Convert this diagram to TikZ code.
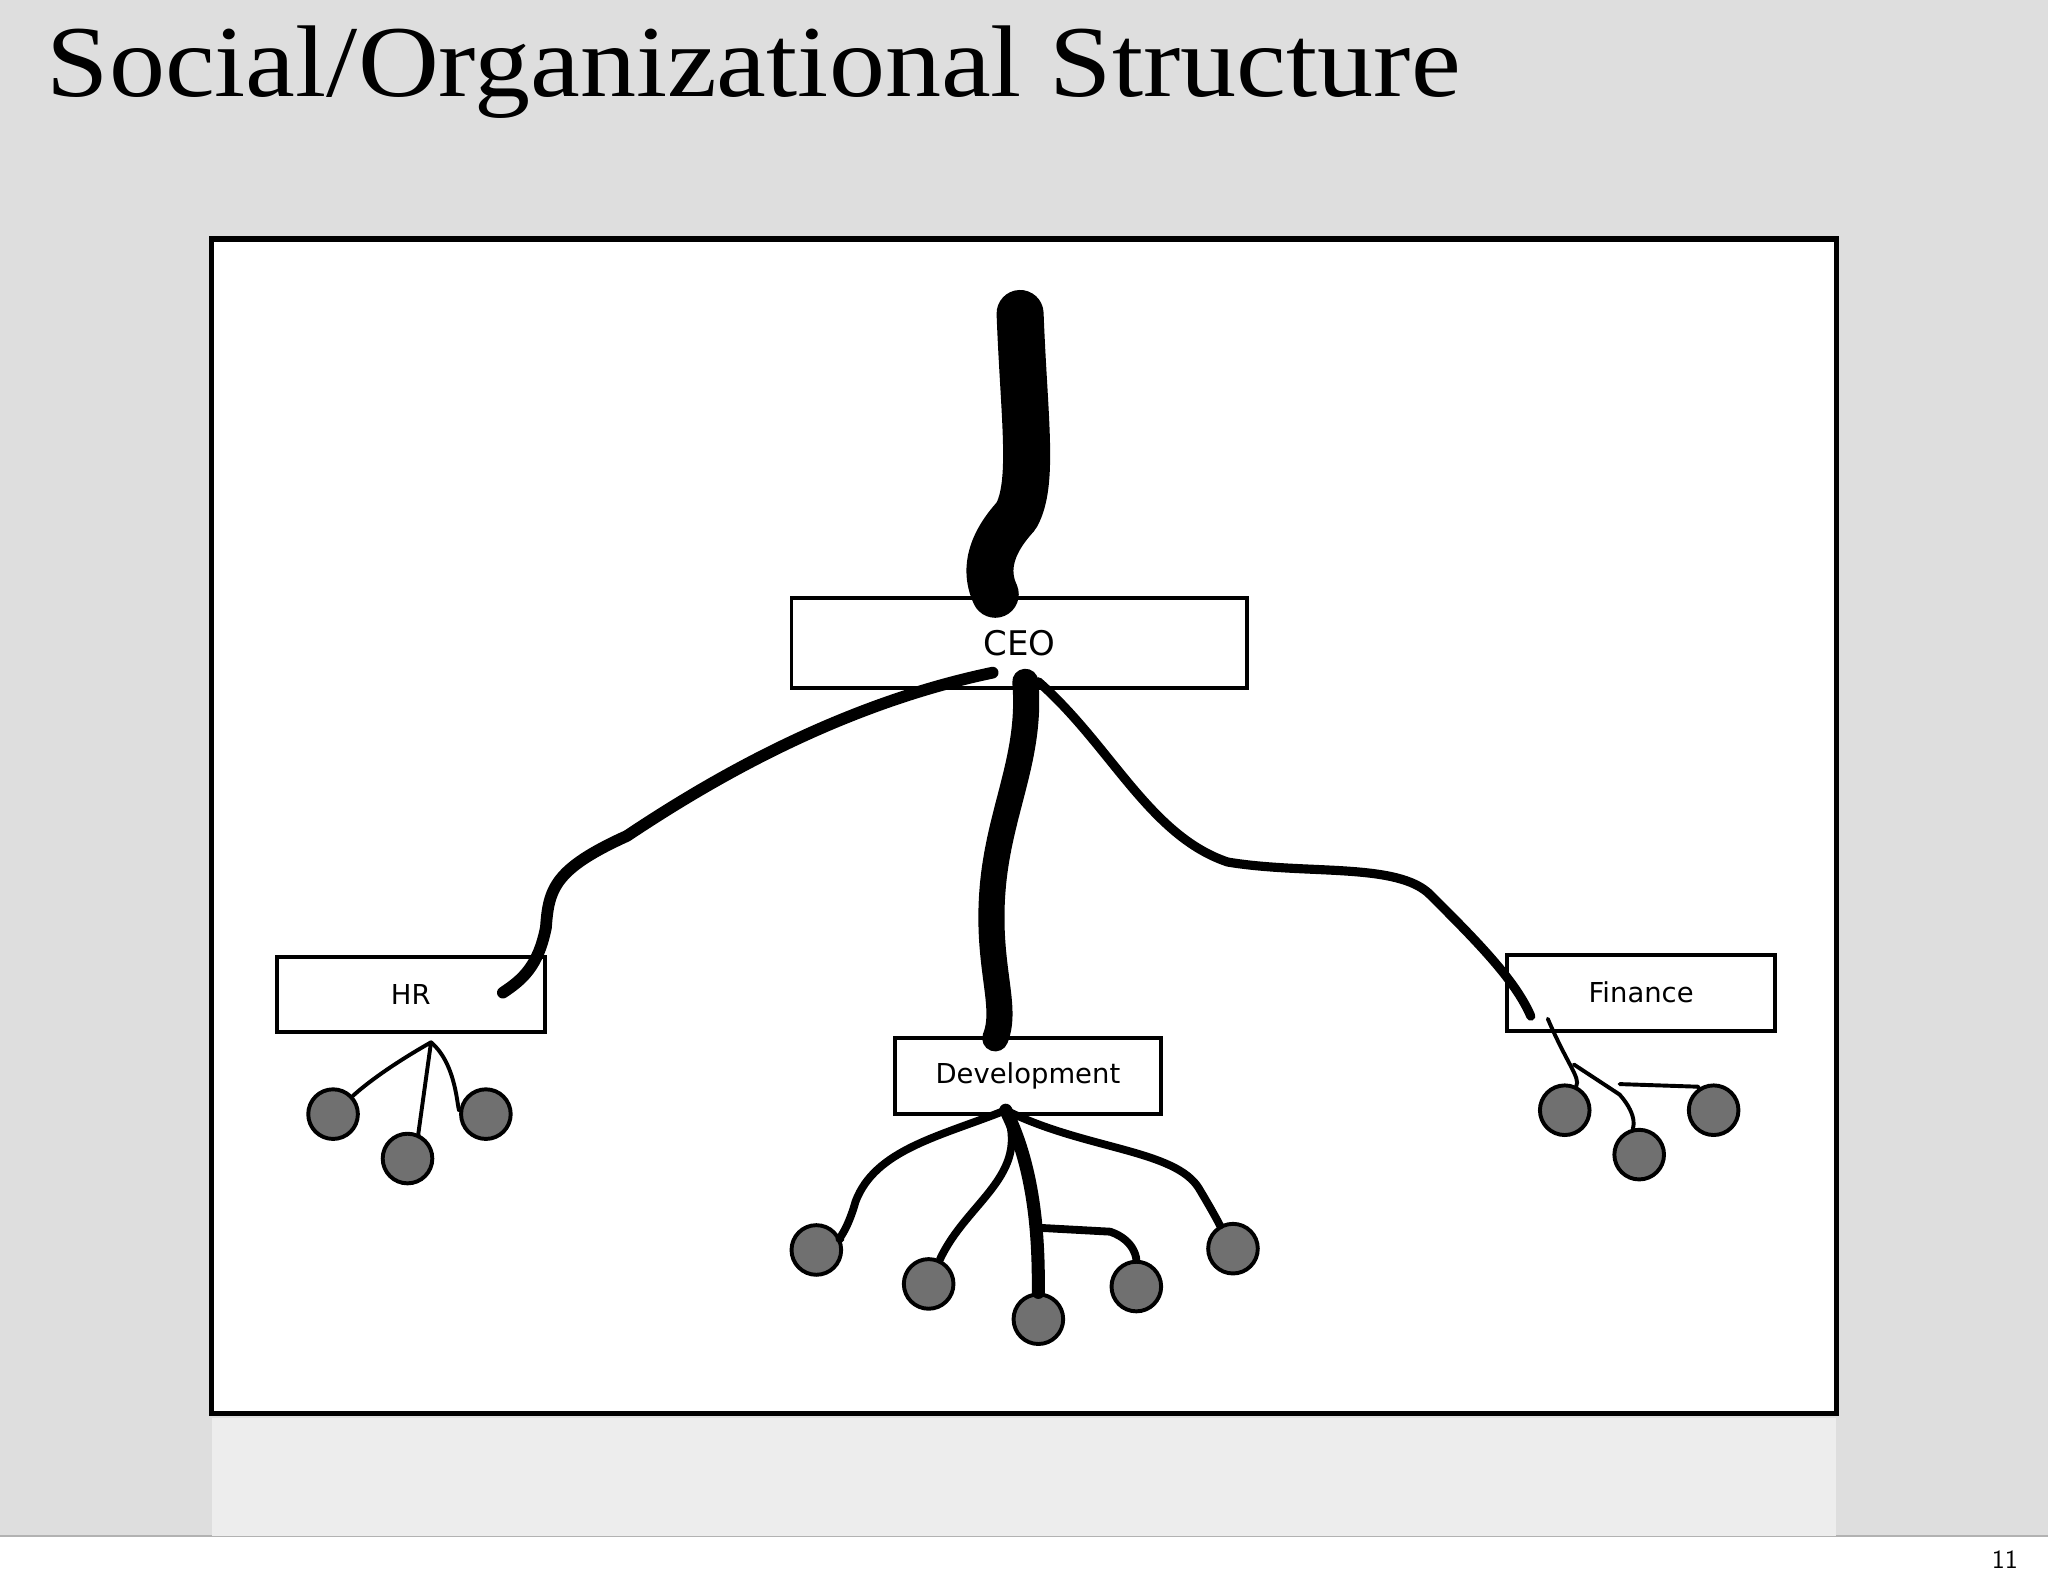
\documentclass[tikz,border=0pt]{standalone}
\usepackage{fontspec}
\newfontfamily\boxfont{DejaVu Sans}
\setmainfont{Liberation Serif}
\begin{document}
\begin{tikzpicture}[x=0.5pt,y=-0.5pt,
  unit/.style={draw=black,line width=1.5pt,inner sep=0pt,font=\boxfont\fontsize{10.5}{10.5}\selectfont},
  leaf/.style={circle,draw=black,line width=1.5pt,fill=gray!75!black!90,minimum size=19pt,inner sep=0pt},
  ink/.style={line cap=round,line join=round,draw=black}]
\useasboundingbox (0,0) rectangle (1568,1215);
\fill[gray!26] (0,0) rectangle (1568,1176);
\fill[white] (0,1176) rectangle (1568,1215);
\draw[gray!60,line width=0.5pt] (0,1176) -- (1568,1176);
\node[anchor=south east,font=\sffamily\fontsize{10}{10}\selectfont] (pg) at (1552,1208) {11};
\node[anchor=west,xscale=1.1,font=\fontsize{39}{39}\selectfont] (title) at (28,55) {Social/Organizational Structure};
% reflection of frame
\fill[gray!14] (162,1086) rectangle (1406,1176);
% frame
\node[draw=black,line width=2pt,fill=white,minimum width=622pt,minimum height=449.5pt,inner sep=0pt] (frame) at (784,632.5) {};
% boxes
\node[unit,minimum width=174.5pt,minimum height=34.5pt,font=\boxfont\fontsize{13}{13}\selectfont] (ceo) at (780.5,492.5) {CEO};
\node[unit,minimum width=102.5pt,minimum height=28.5pt] (hr) at (314.5,761.5) {HR};
\node[unit,minimum width=102pt,minimum height=29pt] (dev) at (787,824) {Development};
\node[unit,minimum width=102.5pt,minimum height=29pt] (fin) at (1256.5,760) {Finance};
% leaves
\node[leaf] (h1) at (255,853) {}; \node[leaf] (h2) at (312,887) {}; \node[leaf] (h3) at (372,853) {};
\node[leaf] (d1) at (625,957) {}; \node[leaf] (d2) at (711,983) {}; \node[leaf] (d3) at (795,1010) {};
\node[leaf] (d4) at (870,985) {}; \node[leaf] (d5) at (944,956) {};
\node[leaf] (f1) at (1198,850) {}; \node[leaf] (f2) at (1255,884) {}; \node[leaf] (f3) at (1312,850) {};
% coordinates
\coordinate (top) at (781,240);
\coordinate (ceoTop) at (762,455);
\coordinate (ceoL) at (760,515);
\coordinate (ceoM) at (785,522);
\coordinate (ceoR) at (795,522);
\coordinate (hrIn) at (385,760);
\coordinate (devIn) at (762,795);
\coordinate (finIn) at (1172,778);
\coordinate (hrOut) at (330,798);
\coordinate (devOut) at (770,850);
\coordinate (finOut) at (1185,780);
% thick connectors
\draw[ink,line width=18pt] (top) .. controls (784,320) and (792,370) .. (778,395) .. controls (755,420) and (755,440) .. (ceoTop);
\draw[ink,line width=4.5pt] (ceoL) .. controls (640,540) and (540,600) .. (480,640) .. controls (425,665) and (420,680) .. (418,710) .. controls (412,740) and (400,750) .. (hrIn);
\draw[ink,line width=10pt] (ceoM) .. controls (790,580) and (765,620) .. (760,680) .. controls (755,740) and (772,770) .. (devIn);
\draw[ink,line width=3.5pt] (ceoR) .. controls (850,570) and (880,640) .. (940,660) .. controls (1000,670) and (1070,660) .. (1095,685) .. controls (1130,720) and (1160,750) .. (finIn);
% sub connectors
\draw[ink,line width=1.5pt] (hrOut) .. controls (300,815) and (280,830) .. (h1);
\draw[ink,line width=1.5pt] (hrOut) -- (320,870) -- (h2);
\draw[ink,line width=1.5pt] (hrOut) .. controls (350,815) and (350,850) .. (h3);
\draw[ink,line width=3pt] (devOut) .. controls (720,870) and (670,880) .. (655,920) .. controls (648,945) and (640,950) .. (d1);
\draw[ink,line width=3pt] (devOut) .. controls (790,900) and (740,920) .. (d2);
\draw[ink,line width=5pt] (devOut) .. controls (795,900) and (795,960) .. (d3);
\draw[ink,line width=3pt] (795,940) -- (850,943) .. controls (870,950) and (870,965) .. (d4);
\draw[ink,line width=3pt] (devOut) .. controls (830,880) and (900,880) .. (918,910) .. controls (930,930) and (935,940) .. (d5);
\draw[ink,line width=1.5pt] (finOut) .. controls (1200,815) and (1210,825) .. (f1);
\draw[ink,line width=1.5pt] (1205,815) -- (1240,838) .. controls (1255,855) and (1250,865) .. (f2);
\draw[ink,line width=1.5pt] (1240,830) -- (1300,832) -- (f3);
\end{tikzpicture}
\end{document}
